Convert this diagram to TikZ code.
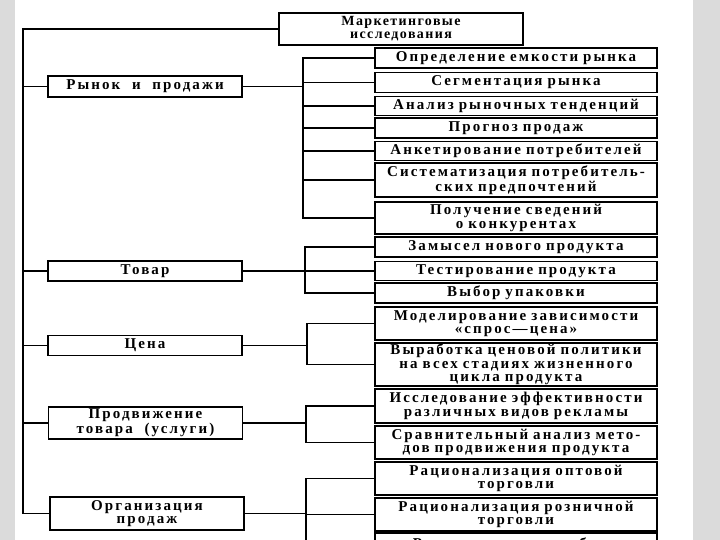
\documentclass[tikz,border=0pt]{standalone}
\usepackage{fontspec}
\setmainfont{Liberation Serif}
\newfontfamily\boxfont[LetterSpace=14,WordSpace=2]{Liberation Serif}
\newfontfamily\rootfont[LetterSpace=10,WordSpace=2]{Liberation Serif}
\usetikzlibrary{calc}

\definecolor{marble}{gray}{0.86}

\begin{document}
\begin{tikzpicture}[x=1pt,y=-1pt,
  box/.style={draw,line width=1.4pt,inner sep=0pt,align=center,
    font=\boxfont\bfseries\fontsize{15}{13.5}\selectfont},
  cat/.style={box,minimum width=194pt},
  task/.style={box,minimum width=282pt,text width=280pt},
  link/.style={line width=1.1pt},
  bus/.style={line width=1.8pt}]

\useasboundingbox (0,0) rectangle (720,540);
\clip (0,0) rectangle (720,540);

% slide background
\fill[white] (0,0) rectangle (720,540);
\fill[marble] (0,0) rectangle (15,540);
\fill[marble] (693,0) rectangle (720,540);

% root
\node[box,minimum width=244pt,minimum height=32pt,
  font=\rootfont\bfseries\fontsize{14}{13}\selectfont]
  (root) at (401,29) {Маркетинговые\\исследования};

% left column
\node[cat,minimum height=21pt] (market) at (145,86.5) {Рынок и продажи};
\node[cat,minimum height=20pt] (goods) at (145,271) {Товар};
\node[cat,minimum height=20pt] (price) at (145,345.5) {Цена};
\node[cat,minimum height=32pt] (promo) at (145.5,423) {Продвижение\\товара (услуги)};
\node[cat,minimum height=33pt] (sales) at (147,513.5) {Организация\\продаж};

% right column
\node[task,minimum height=20pt] (t1) at (516,58) {Определение емкости рынка};
\node[task,minimum height=20pt] (t2) at (516,82.5) {Сегментация рынка};
\node[task,minimum height=19pt] (t3) at (516,106) {Анализ рыночных тенденций};
\node[task,minimum height=20pt] (t4) at (516,128) {Прогноз продаж};
\node[task,minimum height=19pt] (t5) at (516,151) {Анкетирование потребителей};
\node[task,minimum height=34pt] (t6) at (516,180) {Систематизация потребитель-\\ских предпочтений};
\node[task,minimum height=32pt] (t7) at (516,218) {Получение сведений\\о конкурентах};
\node[task,minimum height=20pt] (t8) at (516,247) {Замысел нового продукта};
\node[task,minimum height=19pt] (t9) at (516,271) {Тестирование продукта};
\node[task,minimum height=20pt] (t10) at (516,293) {Выбор упаковки};
\node[task,minimum height=33pt] (t11) at (516,323.5) {Моделирование зависимости\\«спрос—цена»};
\node[task,minimum height=43pt] (t12) at (516,364.5) {Выработка ценовой политики\\на всех стадиях жизненного\\цикла продукта};
\node[task,minimum height=34pt] (t13) at (516,406) {Исследование эффективности\\различных видов рекламы};
\node[task,minimum height=33pt] (t14) at (516,442.5) {Сравнительный анализ мето-\\дов продвижения продукта};
\node[task,minimum height=33pt] (t15) at (516,478.5) {Рационализация оптовой\\торговли};
\node[task,minimum height=33pt] (t16) at (516,514.5) {Рационализация розничной\\торговли};
\node[task,minimum height=33pt] (t17) at (516,549.5) {Рационализация работы\\\mbox{}};

% main bus
\coordinate (mainx) at (23,0);
\draw[bus] (root.west) -- (root.west -| mainx) |- (sales.west);
\foreach \c in {market,goods,price,promo}
  \draw[link] (\c.west) -- (\c.west -| mainx);

% group 1
\coordinate (g1) at (303,0);
\draw[link] (market.east) -- (market.east -| g1);
\draw[link] (t1.west) -- (t1.west -| g1) -- (t7.west -| g1) -- (t7.west);
\foreach \t in {t2,t3,t4,t5,t6}
  \draw[link] (\t.west) -- (\t.west -| g1);

% group 2
\coordinate (g2) at (305,0);
\draw[link] (goods.east) -- (t9.west);
\draw[link] (t8.west) -- (t8.west -| g2) -- (t10.west -| g2) -- (t10.west);

% group 3
\coordinate (g3) at (307,0);
\draw[link] (price.east) -- (price.east -| g3);
\draw[link] (t11.west) -- (t11.west -| g3) -- (t12.west -| g3) -- (t12.west);

% group 4
\coordinate (g4) at (306,0);
\draw[link] (promo.east) -- (promo.east -| g4);
\draw[link] (t13.west) -- (t13.west -| g4) -- (t14.west -| g4) -- (t14.west);

% group 5
\coordinate (g5) at (306,0);
\draw[link] (sales.east) -- (sales.east -| g5);
\draw[link] (t15.west) -- (t15.west -| g5) -- (t17.west -| g5) -- (t17.west);
\draw[link] (t16.west) -- (t16.west -| g5);

\end{tikzpicture}
\end{document}
